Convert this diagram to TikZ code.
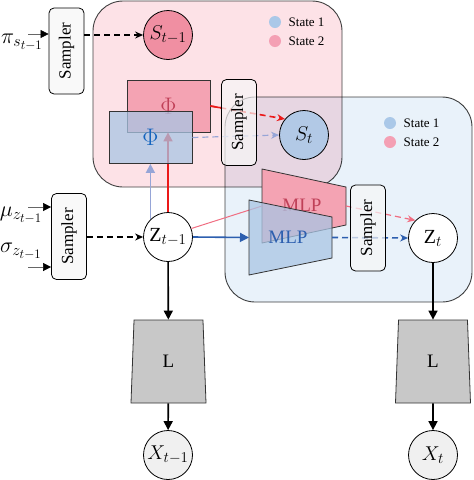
\RequirePackage{fix-cm}
\documentclass[tikz,border=0pt]{standalone}
\usepackage{fontspec}
\setmainfont{Liberation Serif}
\usetikzlibrary{shapes.geometric,arrows.meta,positioning,calc}
\DeclareMathSizes{20}{20}{15}{12}
\DeclareMathSizes{22}{22}{16}{13}

\definecolor{pinkbg}{RGB}{253,226,231}
\definecolor{bluebg}{RGB}{233,242,250}
\definecolor{pinkfill}{RGB}{244,163,179}
\definecolor{bluefill}{RGB}{169,197,228}
\definecolor{spink}{RGB}{240,143,162}
\definecolor{sblue}{RGB}{178,201,230}
\definecolor{legpink}{RGB}{244,160,180}
\definecolor{legblue}{RGB}{170,200,232}
\definecolor{phired}{RGB}{192,64,88}
\definecolor{phiblue}{RGB}{20,100,190}
\definecolor{arrred}{RGB}{235,25,25}
\definecolor{arrblue}{RGB}{45,95,175}
\definecolor{lightblue}{RGB}{150,165,215}
\definecolor{lightred}{RGB}{240,110,130}
\definecolor{lgray}{RGB}{200,200,200}
\definecolor{xgray}{RGB}{240,240,240}

\begin{document}
\begin{tikzpicture}[
    x=1pt, y=-1pt,
    group/.style={
        draw=black!75, line width=0.9pt, rounded corners=30pt
    },
    sampler/.style={
        rectangle, draw=black, line width=0.8pt,
        fill=black!3, fill opacity=0.7, text opacity=1,
        rounded corners=5pt, rotate=90,
        minimum width=86pt, minimum height=35pt, inner sep=0pt,
        font=\fontsize{17}{20}\selectfont
    },
    var/.style={
        circle, draw=black, line width=0.8pt,
        minimum size=49pt, inner sep=0pt,
        font=\fontsize{20}{22}\selectfont
    },
    phibox/.style={
        rectangle, draw=black!80, line width=0.8pt,
        minimum width=83pt, minimum height=52pt, inner sep=0pt,
        font=\fontsize{24}{26}\selectfont
    },
    mlp/.style={draw=black!80, line width=0.8pt},
    decoder/.style={
        trapezium, trapezium left angle=81, trapezium right angle=81,
        trapezium stretches body, draw=black!80, line width=0.8pt,
        fill=lgray, minimum width=75pt, minimum height=83pt,
        font=\fontsize{19}{21}\selectfont
    },
    legdot/.style={circle, minimum size=12pt, inner sep=0pt},
    legtext/.style={font=\fontsize{13}{15}\selectfont},
    inlabel/.style={font=\fontsize{22}{24}\selectfont, inner sep=0pt},
    arrow/.style={-{Triangle[length=9pt,width=9pt]}, line width=1.6pt},
    inarrow/.style={-{Triangle[length=8pt,width=8pt,color=black]}, line width=0.6pt, draw=black!60},
    samplearrow/.style={-{Stealth[length=8pt,width=7pt]}, line width=1.2pt, dash pattern=on 6pt off 4pt}
]
\useasboundingbox (0,0) rectangle (474,480);

% Zustandsbereiche
\draw[group, fill=pinkbg] (93,1) rectangle (342,187);
\begin{scope}[blend mode=multiply]
\draw[group, fill=bluebg] (225,97) rectangle (472,302);
\end{scope}

% Legenden
\node[legdot, fill=legblue] (leg1a) at (275,22) {};
\node[legtext, right=4pt of leg1a] {State 1};
\node[legdot, fill=legpink] (leg1b) at (275,41) {};
\node[legtext, right=4pt of leg1b] {State 2};
\node[legdot, fill=legblue] (leg2a) at (390,123) {};
\node[legtext, right=4pt of leg2a] {State 1};
\node[legdot, fill=legpink] (leg2b) at (390,142) {};
\node[legtext, right=4pt of leg2b] {State 2};

% Variablen
\node[var, fill=spink] (st1) at (168,35) {$S_{t-1}$};
\node[var, fill=sblue] (st) at (304,135) {$S_t$};
\node[var, fill=white] (zt1) at (168,237) {$\mathrm{Z}_{t-1}$};
\node[var, fill=white] (zt) at (433,238) {$\mathrm{Z}_t$};
\node[var, fill=xgray] (xt1) at (168,455) {$X_{t-1}$};
\node[var, fill=xgray] (xt) at (433,455) {$X_t$};

% Phi-Bloecke
\node[phibox, fill=pinkfill, text=phired] (phiP) at (168.5,106) {$\Phi$};
\draw[arrow, arrred] (zt1.north) -- (zt1.north |- phiP.south);
\node[phibox, fill=bluefill, fill opacity=0.75, text opacity=1, text=phiblue] (phiB) at (150.5,137.5) {$\Phi$};
\draw[arrow, lightblue] (zt1.north west) -- (zt1.north west |- phiB.south);

% MLP-Bloecke
\draw[mlp, fill=pinkfill] (262,169) -- (346,187) -- (346,225) -- (262,243) -- cycle;
\node[font=\fontsize{19}{21}\selectfont, text=phired] (mlpP) at (302,205) {MLP};
\coordinate (mlpPin) at (262,206);
\coordinate (mlpPout) at (346,206);
\draw[lightred, line width=1pt] (zt1.20) -- (mlpPin);
\draw[mlp, fill=bluefill, fill opacity=0.75] (249,200) -- (332,217) -- (332,258) -- (249,275) -- cycle;
\node[font=\fontsize{19}{21}\selectfont, text=arrblue] (mlpB) at (288,237) {MLP};
\coordinate (mlpBin) at (249,237.5);
\coordinate (mlpBout) at (332,237.5);
\draw[arrow, arrblue] (zt1.east) -- (mlpBin);

% Uebergaenge
\draw[line width=1.6pt, arrred] (phiP.east) -- ($(phiP.east)!0.16!(st.140)$);
\draw[samplearrow, arrred, line width=1.6pt] (phiP.east) -- (st.140);
\draw[samplearrow, lightblue] (phiB.east) -- (st.west);
\draw[samplearrow, lightred] (mlpPout) -- (zt.135);
\draw[samplearrow, arrblue, line width=1.6pt] (mlpBout) -- (zt.west);

% Sampler
\node[sampler] (samp1) at (66.5,51) {Sampler};
\node[sampler] (samp2) at (239,122.5) {Sampler};
\node[sampler] (samp3) at (69,236.5) {Sampler};
\node[sampler] (samp4) at (368,228) {Sampler};

\draw[samplearrow, black] (samp1.south |- st1) -- (st1);
\draw[samplearrow, black] (samp3.south |- zt1) -- (zt1);

% Eingaenge
\node[inlabel] (pi) at (22,42) {$\pi_{s_{t-1}}$};
\coordinate (piin) at (28,34);
\draw[inarrow] (piin) -- (piin -| samp1.north);
\node[inlabel] (mu) at (21,215) {$\mu_{z_{t-1}}$};
\coordinate (muin) at (28,207);
\draw[inarrow] (muin) -- (muin -| samp3.north);
\node[inlabel] (sigma) at (21,251) {$\sigma_{z_{t-1}}$};
\coordinate (sigin) at (28,267);
\draw[inarrow] (sigin) -- (sigin -| samp3.north);

% Decoder
\node[decoder] (dec1) at (168.5,361.5) {L};
\node[decoder] (dec2) at (433,361.5) {L};
\draw[arrow] (zt1) -- (dec1);
\draw[arrow] (dec1) -- (xt1);
\draw[arrow] (zt) -- (dec2);
\draw[arrow] (dec2) -- (xt);

\end{tikzpicture}
\end{document}
